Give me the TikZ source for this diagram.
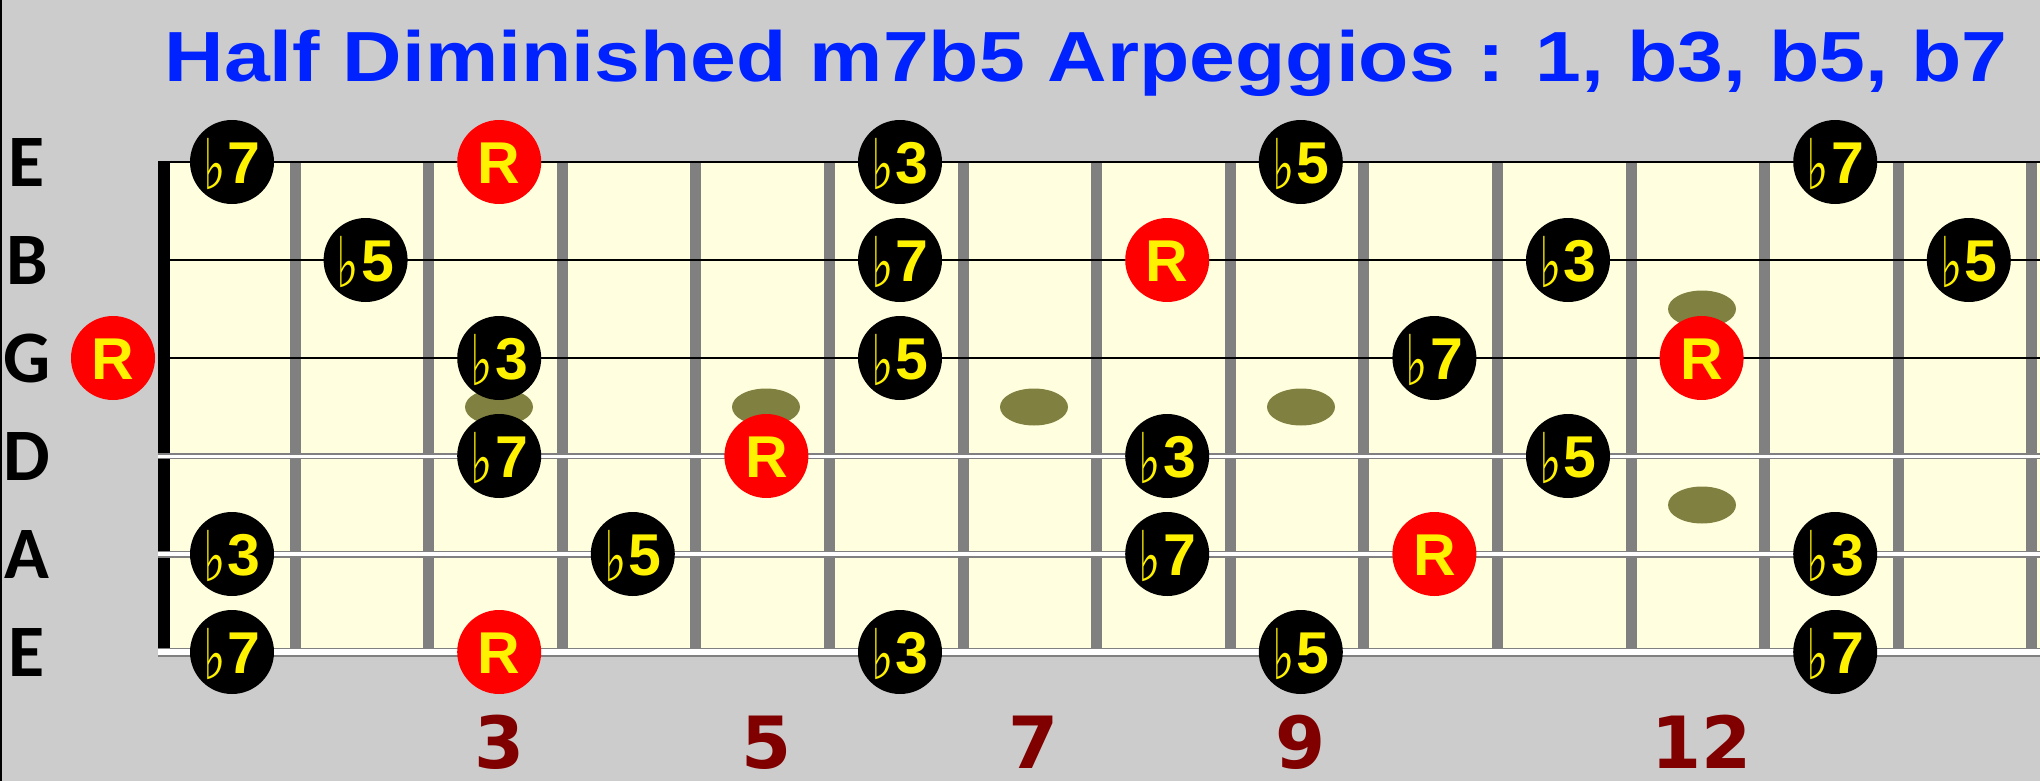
\documentclass[tikz,border=0pt]{standalone}
\usepackage{fontspec}
\usepackage{graphicx}
\setmainfont{Liberation Sans}
\newfontfamily\flatfont{DejaVu Sans}
\newfontfamily\numfont{DejaVu Sans}
\newfontfamily\strfont{Carlito}
\usetikzlibrary{shapes.geometric}
\definecolor{board}{RGB}{255,255,224}
\definecolor{backgray}{RGB}{204,204,204}
\definecolor{titleblue}{RGB}{0,34,255}
\definecolor{fretred}{RGB}{128,0,0}
\definecolor{inlaygreen}{RGB}{128,128,64}
\definecolor{fretgray}{RGB}{128,128,128}
\newcommand{\fl}{\raisebox{-6pt}{\scalebox{0.68}[1]{\flatfont\mdseries\fontsize{70}{70}\selectfont ♭}}\kern2pt}

\begin{document}
\begin{tikzpicture}[x=1pt, y=-1pt,
	note/.style={circle, fill=black, minimum size=84pt, inner sep=0pt, text=yellow,
		text height=42pt, text depth=0pt, font=\bfseries\fontsize{59}{59}\selectfont},
	root/.style={note, fill=red},
	dot/.style={ellipse, fill=inlaygreen, minimum width=68pt, minimum height=37pt, inner sep=0pt},
	strlabel/.style={anchor=base, inner sep=0pt, font=\strfont\bfseries\fontsize{74}{74}\selectfont},
	fretnum/.style={anchor=base, inner sep=0pt, text=fretred, font=\numfont\bfseries\fontsize{72}{72}\selectfont}]
	\useasboundingbox (0,0) rectangle (2040,781);
	\fill[backgray] (0,0) rectangle (2040,781);
	\fill (0,0) rectangle (2,781);
	\fill[board] (164,162) rectangle (2040,648);

	% frets
	\foreach \k in {1,...,14}
		\draw[fretgray, line width=11pt] ({295+133.6*(\k-1)},162) -- ({295+133.6*(\k-1)},648);

	% inlays
	\node[dot] (d3) at (499,407) {};
	\node[dot] (d5) at (766,407) {};
	\node[dot] (d7) at (1034,407) {};
	\node[dot] (d9) at (1301,407) {};
	\node[dot] (d12a) at (1702,309) {};
	\node[dot] (d12b) at (1702,505) {};

	% nut and strings
	\fill (158,162) rectangle (170,648);
	\foreach \s in {1,2,3}
		\draw[line width=2pt] (158,{162+98*(\s-1)}) -- (2040,{162+98*(\s-1)});
	\foreach \s/\w in {4/6,5/7,6/9} {
		\draw[fretgray, line width=\w pt] (158,{162+98*(\s-1)}) -- (2040,{162+98*(\s-1)});
		\draw[white, line width=\w pt-3pt] (158,{162+98*(\s-1)}) -- (2040,{162+98*(\s-1)});
	}

	% string names
	\foreach \s/\n in {1/E,2/B,3/G,4/D,5/A,6/E}
		\node[strlabel] (s\s) at (27,{186+98*(\s-1)}) {\n};

	% arpeggio notes
	\node[root] (n3-0) at (113,358) {R};
	\foreach \s/\f/\t/\st in {1/1/\fl7/note, 1/3/R/root, 1/6/\fl3/note, 1/9/\fl5/note, 1/13/\fl7/note,
		2/2/\fl5/note, 2/6/\fl7/note, 2/8/R/root, 2/11/\fl3/note, 2/14/\fl5/note,
		3/3/\fl3/note, 3/6/\fl5/note, 3/10/\fl7/note, 3/12/R/root,
		4/3/\fl7/note, 4/5/R/root, 4/8/\fl3/note, 4/11/\fl5/note,
		5/1/\fl3/note, 5/4/\fl5/note, 5/8/\fl7/note, 5/10/R/root, 5/13/\fl3/note,
		6/1/\fl7/note, 6/3/R/root, 6/6/\fl3/note, 6/9/\fl5/note, 6/13/\fl7/note}
		\node[\st] (n\s-\f) at ({232+133.6*(\f-1)},{162+98*(\s-1)}) {\t};

	% fret numbers
	\foreach \f in {3,5,7,9,12}
		\node[fretnum] (f\f) at ({232+133.6*(\f-1)},768) {\f};

	\node[anchor=base, text=titleblue, font=\bfseries\fontsize{71}{71}\selectfont] (title) at (1086,82)
		{\scalebox{1.16}[1]{Half Diminished m7b5 Arpeggios : 1, b3, b5, b7}};
\end{tikzpicture}
\end{document}
